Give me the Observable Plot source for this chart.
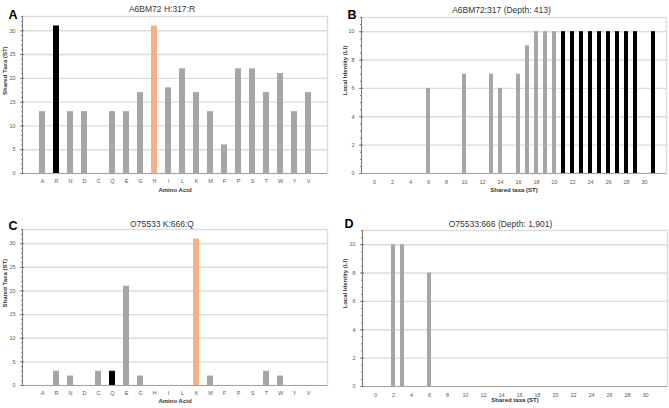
<!DOCTYPE html>
<html><head><meta charset="utf-8">
<script src="https://cdn.jsdelivr.net/npm/d3@7"></script>
<script src="https://cdn.jsdelivr.net/npm/@observablehq/plot@0.6"></script>
<style>
html,body{margin:0;padding:0;background:#fff;}
#wrap{position:relative;width:669px;height:408px;overflow:hidden;background:#fff;}
#wrap > svg{position:absolute;}
</style></head><body><div id="wrap"></div>
<script>
// ---- data ----
const aminoAcids = ["A","R","N","D","C","Q","E","G","H","I","L","K","M","F","P","S","T","W","Y","V"];
const panelAValues = [13,31,13,13,0,13,13,17,31,18,22,17,13,6,22,22,17,21,13,17];
const panelAWildType = "H";
const panelAMutant = "R";
const panelCValues = [0,3,2,0,3,3,21,2,0,0,0,31,2,0,0,0,3,2,0,0];
const panelCWildType = "K";
const panelCMutant = "Q";

const sharedTaxaCategories = d3.range(0, 32);
const sharedTaxaTickLabels = [0,2,4,6,8,10,12,14,16,18,20,22,24,26,28,30];

const panelBSharedTaxa = [6,10,13,14,16,17,18,19,20,21,22,23,24,25,26,27,28,29,31];
const panelBLocalIdentity = [6,7,7,6,7,9,10,10,10,10,10,10,10,10,10,10,10,10,10];
const panelBHighlighted = [21,22,23,24,25,26,27,28,29,31];

const panelDSharedTaxa = [2,3,6];
const panelDLocalIdentity = [10,10,8];
const panelDHighlighted = [];

const stMajorTicks = [0,5,10,15,20,25,30];
const stMinorTicks = d3.range(0, 34, 1);
const liMajorTicks = [0,2,4,6,8,10];
const liMinorTicks = d3.range(0, 11.01, 0.5);

// ---- styles ----
const FONT = "'Liberation Sans', Arial, sans-serif";
const GRAY = "#a6a6a6", BLACK = "#000000", ORANGE = "#f4b183";
const AXIS = "#7f7f7f", GRID = "#dcdcdc", TICKTXT = "#595959", LABEL = "#333333";

const tableA = aminoAcids.map((a, i) => ({x: a, y: panelAValues[i],
  color: a === panelAWildType ? ORANGE : a === panelAMutant ? BLACK : GRAY}));
const tableC = aminoAcids.map((a, i) => ({x: a, y: panelCValues[i],
  color: a === panelCWildType ? ORANGE : a === panelCMutant ? BLACK : GRAY}));
const tableB = panelBSharedTaxa.map((s, i) => ({x: s, y: panelBLocalIdentity[i],
  color: panelBHighlighted.includes(s) ? BLACK : GRAY}));
const tableD = panelDSharedTaxa.map((s, i) => ({x: s, y: panelDLocalIdentity[i],
  color: panelDHighlighted.includes(s) ? BLACK : GRAY}));

function makePanel(o) {
  const svg = Plot.plot({
    width: o.width, height: o.height,
    marginTop: o.mt, marginBottom: o.mb, marginLeft: o.ml, marginRight: o.mr,
    style: {background: "transparent", fontFamily: FONT, overflow: "visible"},
    x: {type: "band", domain: o.xDomain, padding: o.padding, align: 0.5},
    y: {domain: [0, o.yMax]},
    marks: [
      Plot.gridY({ticks: o.yMajor.filter(v => v > 0), stroke: GRID, strokeOpacity: 1, strokeWidth: 1.4}),
      Plot.frame({stroke: GRID, strokeOpacity: 1, strokeWidth: 1.4}),
      Plot.barY(o.data, {x: "x", y: "y", fill: "color"}),
      Plot.ruleY([0], {stroke: "#a6a6a6"}),
      Plot.frame({anchor: "left", stroke: AXIS}),
      Plot.axisY({ticks: o.yMinor, tickSize: 2, dx: 1, text: null, label: null, color: AXIS}),
      Plot.axisY({ticks: o.yMajor, tickSize: 4, dx: 2, text: null, label: null, color: AXIS}),
      Plot.axisY({ticks: o.yMajor, tickSize: 0, tickPadding: 7, fontSize: 5.5, color: TICKTXT, label: null}),
      Plot.axisX({ticks: o.xTicks, tickSize: 0, tickPadding: o.xPad, fontSize: 5.5, color: TICKTXT, label: null}),
      Plot.text([o.xLabel], {text: d => d, frameAnchor: "bottom", dy: o.xLabelDy, fontSize: 6, fontWeight: "bold", fill: LABEL}),
      Plot.text([o.yLabel], {text: d => d, frameAnchor: "left", dx: o.yLabelDx, rotate: -90, fontSize: 6, fontWeight: "bold", fill: LABEL}),
      Plot.text([o.title], {text: d => d, frameAnchor: "top", dx: o.titleDx, dy: o.titleDy, fontSize: 8.5, fill: LABEL}),
      Plot.text([o.letter], {text: d => d, frameAnchor: "top-left", textAnchor: "start", dx: o.letterDx, dy: o.letterDy, fontSize: 12.5, fontWeight: "bold", fill: "#000"})
    ]
  });
  svg.style.left = o.left + "px";
  svg.style.top = o.top + "px";
  document.getElementById("wrap").appendChild(svg);
}

makePanel({data: tableA, left: 0, top: 0, width: 334, height: 204, mt: 16, mb: 31, ml: 22, mr: 7,
  xDomain: aminoAcids, xTicks: aminoAcids, padding: 0.6, yMax: 33, yMajor: stMajorTicks, yMinor: stMinorTicks,
  xPad: 6, xLabel: "Amino Acid", xLabelDy: 18, yLabel: "Shared Taxa (ST)", yLabelDx: -17,
  title: "A6BM72 H:317:R", titleDx: -13, titleDy: -10.5, letter: "A", letterDx: -14, letterDy: -6});

makePanel({data: tableB, left: 335, top: 0, width: 334, height: 204, mt: 17, mb: 31, ml: 26, mr: 3,
  xDomain: sharedTaxaCategories, xTicks: sharedTaxaTickLabels, padding: 0.58, yMax: 11, yMajor: liMajorTicks, yMinor: liMinorTicks,
  xPad: 7, xLabel: "Shared taxa (ST)", xLabelDy: 18.7, yLabel: "Local Identity (LI)", yLabelDx: -16,
  title: "A6BM72:317 (Depth: 413)", titleDx: -12.5, titleDy: -11, letter: "B", letterDx: -14, letterDy: -7});

makePanel({data: tableC, left: 0, top: 204, width: 334, height: 204, mt: 25, mb: 23, ml: 22, mr: 7,
  xDomain: aminoAcids, xTicks: aminoAcids, padding: 0.6, yMax: 33, yMajor: stMajorTicks, yMinor: stMinorTicks,
  xPad: 6, xLabel: "Amino Acid", xLabelDy: 17, yLabel: "Shared Taxa (ST)", yLabelDx: -17,
  title: "O75533 K:666:Q", titleDx: -13, titleDy: -9, letter: "C", letterDx: -14, letterDy: -8});

makePanel({data: tableD, left: 335, top: 204, width: 334, height: 204, mt: 26, mb: 22, ml: 27, mr: 2,
  xDomain: sharedTaxaCategories, xTicks: sharedTaxaTickLabels, padding: 0.58, yMax: 11, yMajor: liMajorTicks, yMinor: liMinorTicks,
  xPad: 6.5, xLabel: "Shared taxa (ST)", xLabelDy: 15.7, yLabel: "Local Identity (LI)", yLabelDx: -17,
  title: "O75533:666 (Depth: 1,901)", titleDx: -14.5, titleDy: -10, letter: "D", letterDx: -18, letterDy: -11});
</script>
</body></html>
